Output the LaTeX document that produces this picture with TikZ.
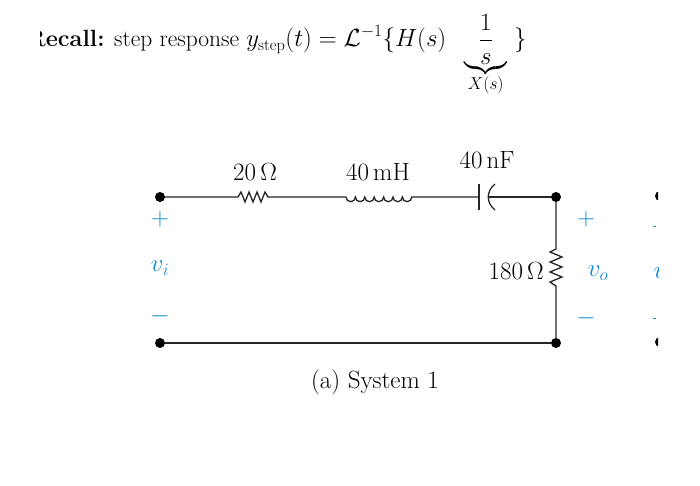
\documentclass[tikz,border=0pt]{standalone}
\usepackage{amsmath,amssymb}
\begin{document}
\begin{tikzpicture}[x=1pt,y=-1pt,
  wire/.style={line width=1.3pt,black!85},
  dotn/.style={circle,fill=black,inner sep=0pt,minimum size=10pt},
  lbl/.style={font=\fontsize{25}{28}\selectfont,inner sep=0pt},
  blu/.style={text=cyan!70!blue,font=\fontsize{25}{28}\selectfont,inner sep=0pt}]
\useasboundingbox (0,0) rectangle (700,486);
\fill[white] (0,0) rectangle (700,486);
\begin{scope}
\clip (40,0) rectangle (700,120);
\node[anchor=base west,inner sep=0pt,font=\fontsize{23.5}{28}\selectfont] (hdr) at (26,47)
 {\textbf{Recall:} step response $\displaystyle y_{\text{step}}(t)=\mathcal{L}^{-1}\{H(s)\ \ \underbrace{\;\frac{1}{s}\;}_{\rule{0pt}{8pt}X(s)}\ \}$};
\end{scope}
% terminals
\node[dotn] (a) at (160,197) {};
\node[dotn] (b) at (160,343) {};
\node[dotn] (c) at (556,197) {};
\node[dotn] (d) at (556,343) {};
% top wire with components
\draw[wire] (a) -- (238,197) -- (241,192) -- (245,202) -- (249,192) -- (253,202) -- (257,192) -- (261,202) -- (265,192) -- (268,197) -- (346,197);
\draw[wire] (346,197) arc(180:0:4.7) arc(180:0:4.7) arc(180:0:4.7) arc(180:0:4.7) arc(180:0:4.7) arc(180:0:4.7) arc(180:0:4.7) -- (479,197);
\draw[wire] (479,184) -- (479,210);
\draw[wire] (495,184) .. controls (486,191) and (486,203) .. (495,210);
\draw[wire] (488,197) -- (c);
\draw[wire] (c) -- (556,249) -- (550,252) -- (562,257) -- (550,262) -- (562,267) -- (550,272) -- (562,277) -- (550,282) -- (556,286) -- (d);
\draw[wire] (b) -- (d);
% labels
\node[lbl] (l1) at (255,172) {20\,$\Omega$};
\node[lbl] (l2) at (378,172) {40\,mH};
\node[lbl] (l3) at (487,160) {40\,nF};
\node[lbl,anchor=east] (l4) at (544,271) {180\,$\Omega$};
\node[blu] (p1) at (160,219) {$+$};
\node[blu] (vi) at (160,268) {$v_i$};
\node[blu] (m1) at (160,316) {$-$};
\node[blu] (p2) at (586,219) {$+$};
\node[blu] (vo) at (598,273) {$v_o$};
\node[blu] (m2) at (586,318) {$-$};
\node[lbl] (cap) at (375,382) {(a) System 1};
% partial second circuit fragments at right edge
\begin{scope}
\clip (640,150) rectangle (658,360);
\node[dotn] (e) at (660,196) {};
\node[dotn] (f) at (660,342) {};
\node[blu] (vx) at (660,273) {$v$};
\draw[cyan!70!blue,line width=1pt] (653,226) -- (656,226) (653,318) -- (656,318);
\end{scope}
\end{tikzpicture}
\end{document}
